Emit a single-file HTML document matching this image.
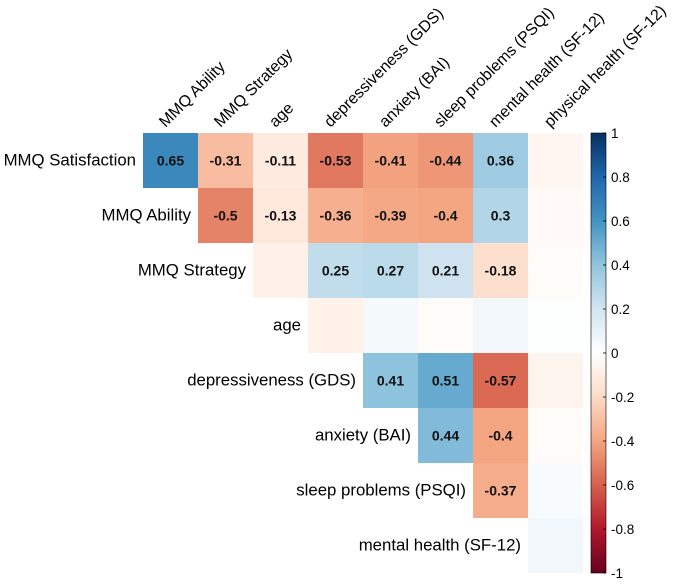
<!DOCTYPE html>
<html><head><meta charset="utf-8"><style>
body{margin:0;background:#fff;}
svg text{font-family:"Liberation Sans",Arial,sans-serif;}
</style></head><body>
<svg id="chart" width="685" height="580"></svg>
<script>
const rowLabels=["MMQ Satisfaction","MMQ Ability","MMQ Strategy","age","depressiveness (GDS)","anxiety (BAI)","sleep problems (PSQI)","mental health (SF-12)"];
const colLabels=["MMQ Ability","MMQ Strategy","age","depressiveness (GDS)","anxiety (BAI)","sleep problems (PSQI)","mental health (SF-12)","physical health (SF-12)"];
const values=[
[0.65,-0.31,-0.11,-0.53,-0.41,-0.44,0.36,-0.05],
[-0.5,-0.13,-0.36,-0.39,-0.4,0.3,-0.03],
[-0.08,0.25,0.27,0.21,-0.18,-0.02],
[-0.07,0.05,-0.02,0.06,0.01],
[0.41,0.51,-0.57,-0.06],
[0.44,-0.4,-0.02],
[-0.37,0.03],
[0.06]];
const shown=[
["0.65","-0.31","-0.11","-0.53","-0.41","-0.44","0.36",""],
["-0.5","-0.13","-0.36","-0.39","-0.4","0.3",""],
["","0.25","0.27","0.21","-0.18",""],
["","","","",""],
["0.41","0.51","-0.57",""],
["0.44","-0.4",""],
["-0.37",""],
[""]];
const cbTicks=[1,0.8,0.6,0.4,0.2,0,-0.2,-0.4,-0.6,-0.8,-1];
const pal=["#67001F","#B2182B","#D6604D","#F4A582","#FDDBC7","#FFFFFF","#D1E5F0","#92C5DE","#4393C3","#2166AC","#053061"];
function hx(c){return [1,3,5].map(i=>parseInt(c.substr(i,2),16));}
function color(v){const t=(v+1)/2*10;const i=Math.min(9,Math.floor(t));const f=t-i;const a=hx(pal[i]),b=hx(pal[i+1]);
return "rgb("+a.map((x,k)=>Math.round(x+(b[k]-x)*f)).join(",")+")";}
const X0=143,Y0=133,C=55;
const xs=c=>X0+c*C, ys=r=>Y0+r*C;
const svg=document.getElementById('chart');const NS="http://www.w3.org/2000/svg";
function mk(t,a,p){const e=document.createElementNS(NS,t);for(const k in a)e.setAttribute(k,a[k]);(p||svg).appendChild(e);return e;}
rowLabels.forEach((l,r)=>{const t=mk('text',{x:xs(r)-7,y:ys(r)+C/2+5,'text-anchor':'end','font-size':16.8,fill:'#000'});t.textContent=l;

});
colLabels.forEach((l,c)=>{const x=xs(c)+C/2-5,y=128;const t=mk('text',{x:x,y:y,'font-size':16,fill:'#000',transform:`rotate(-45 ${x} ${y})`});t.textContent=l;

});
values.forEach((row,r)=>row.forEach((v,k)=>{const c=r+k;
const rc=mk('rect',{x:xs(c),y:ys(r),width:C,height:C,fill:color(v)});


const s=shown[r][k];if(s){const t=mk('text',{x:xs(c)+C/2,y:ys(r)+C/2+5,'text-anchor':'middle','font-size':14,'font-weight':'bold',fill:'#111'});t.textContent=s;

}}));
const cbX=591,cbW=15,cbT=133,cbB=573;const cy=v=>cbT+(1-v)/2*(cbB-cbT);
const g=mk('defs',{});const lg=mk('linearGradient',{id:'cg',x1:0,y1:1,x2:0,y2:0},g);
pal.forEach((p,i)=>mk('stop',{offset:i/10,'stop-color':p},lg));
const cb=mk('rect',{x:cbX,y:cbT,width:cbW,height:cbB-cbT,fill:'url(#cg)',stroke:'#000','stroke-width':0.6});


cbTicks.forEach(v=>{mk('line',{x1:cbX+cbW-3,x2:cbX+cbW,y1:cy(v),y2:cy(v),stroke:'#000','stroke-width':0.8});
const t=mk('text',{x:cbX+cbW+5,y:cy(v)+5,'font-size':13.5,fill:'#000'});t.textContent=String(v);

});
</script>
</body></html>
